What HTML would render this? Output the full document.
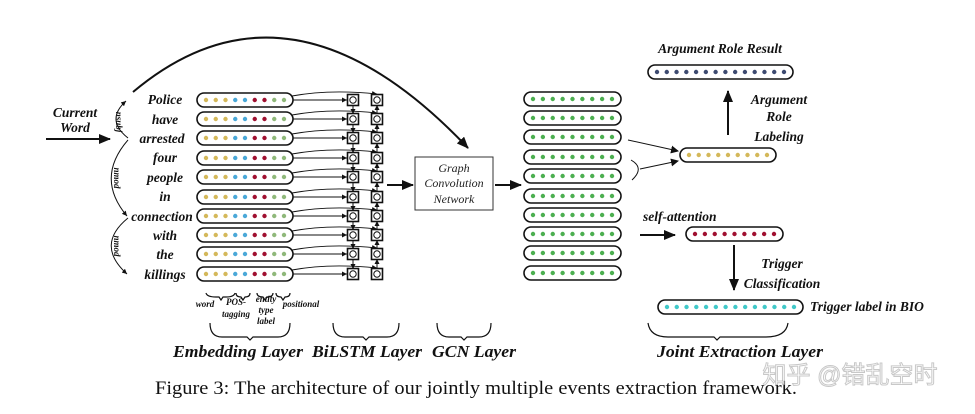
<!DOCTYPE html>
<html><head><meta charset="utf-8"><style>
body{margin:0;background:#fff}
svg{display:block}
.w{font-family:"Liberation Serif",serif;font-style:italic;font-weight:bold;font-size:13.5px;fill:#111}
.s{font-family:"Liberation Serif",serif;font-style:italic;font-weight:bold;font-size:9px;fill:#111}
.L{font-family:"Liberation Serif",serif;font-style:italic;font-weight:bold;font-size:17px;fill:#111}
</style></head><body>
<svg id="g" width="975" height="414" viewBox="0 0 975 414" xmlns="http://www.w3.org/2000/svg">
<defs>
<marker id="a" markerWidth="8" markerHeight="8" refX="7" refY="4" orient="auto" markerUnits="userSpaceOnUse"><path d="M0,0 L8,4 L0,8 z" fill="#111"/></marker>
<marker id="b" markerWidth="12" markerHeight="10" refX="11" refY="5" orient="auto" markerUnits="userSpaceOnUse"><path d="M0,0 L12,5 L0,10 z" fill="#111"/></marker>
<marker id="c" markerWidth="5" markerHeight="5" refX="5" refY="2.5" orient="auto" markerUnits="userSpaceOnUse"><path d="M0,0 L5,2.5 L0,5 z" fill="#111"/></marker>
</defs>
<path d="M133,92 Q290,-40 468,148" fill="none" stroke="#111" stroke-width="2" marker-end="url(#b)"/>
<text class="w" x="75" y="117" text-anchor="middle">Current</text>
<text class="w" x="75" y="132" text-anchor="middle">Word</text>
<line x1="46" y1="139" x2="110" y2="139" stroke="#111" stroke-width="2" marker-end="url(#b)"/>
<path d="M128,138 Q105,120 126,101" fill="none" stroke="#111" stroke-width="1" marker-end="url(#c)"/>
<path d="M128,140 Q95,178 127,216" fill="none" stroke="#111" stroke-width="1" marker-end="url(#c)"/>
<path d="M128,218 Q95,245 127,274" fill="none" stroke="#111" stroke-width="1" marker-end="url(#c)"/>
<text class="s" transform="translate(116,122) rotate(90)" text-anchor="middle">nsubj</text>
<text class="s" transform="translate(114,178) rotate(90)" text-anchor="middle">nmod</text>
<text class="s" transform="translate(114,246) rotate(90)" text-anchor="middle">nmod</text>
<g class="w" text-anchor="middle">
<text x="165" y="104">Police</text>
<text x="165" y="124">have</text>
<text x="162" y="143">arrested</text>
<text x="165" y="162">four</text>
<text x="165" y="182">people</text>
<text x="165" y="201">in</text>
<text x="162" y="221">connection</text>
<text x="165" y="240">with</text>
<text x="165" y="259">the</text>
<text x="165" y="279">killings</text>
</g>
<g id="dyn"></g>
<line x1="387" y1="185" x2="413" y2="185" stroke="#111" stroke-width="2" marker-end="url(#b)"/>
<rect x="415" y="157" width="78" height="53" fill="#fff" stroke="#333" stroke-width="1"/>
<g font-family="Liberation Serif,serif" font-style="italic" font-size="12" fill="#222" text-anchor="middle">
<text x="454" y="172">Graph</text><text x="454" y="187">Convolution</text><text x="454" y="203">Network</text></g>
<line x1="495" y1="185" x2="521" y2="185" stroke="#111" stroke-width="2" marker-end="url(#b)"/>
<text class="w" x="720" y="53" text-anchor="middle" font-size="12.5">Argument Role Result</text>
<line x1="728" y1="135" x2="728" y2="91" stroke="#111" stroke-width="2" marker-end="url(#b)"/>
<g class="w" text-anchor="middle" font-size="12.5"><text x="779" y="104">Argument</text><text x="779" y="121">Role</text><text x="779" y="141">Labeling</text></g>
<line x1="628" y1="140" x2="678" y2="151" stroke="#111" stroke-width="1" marker-end="url(#a)"/>
<path d="M631,160 Q645,168 632,180" fill="none" stroke="#111" stroke-width="1"/>
<line x1="640" y1="169" x2="678" y2="161" stroke="#111" stroke-width="1" marker-end="url(#a)"/>
<text class="w" x="643" y="221" font-size="12.5">self-attention</text>
<line x1="640" y1="235" x2="675" y2="235" stroke="#111" stroke-width="2" marker-end="url(#b)"/>
<line x1="734" y1="245" x2="734" y2="290" stroke="#111" stroke-width="2" marker-end="url(#b)"/>
<g class="w" text-anchor="middle" font-size="12.5"><text x="782" y="268">Trigger</text><text x="782" y="288">Classification</text></g>
<text class="w" x="810" y="311" font-size="12.5">Trigger label in BIO</text>
<g class="s" font-size="8.5" text-anchor="middle">
<text x="205" y="307">word</text><text x="236" y="305">POS-</text><text x="236" y="317">tagging</text>
<text x="266" y="302">entity</text><text x="266" y="313">type</text><text x="266" y="324">label</text>
<text x="301" y="307">positional</text></g>
<g fill="none" stroke="#111" stroke-width="1.2">
<path d="M206,293 q1,4 10,4 h3 l2,3 l2,-3 h3 q8,0 9,-4"/>
<path d="M236,293 q0,4 5,4 l2,3 l2,-3 q5,0 5,-4"/>
<path d="M257,293 q0,4 6,4 l2,3 l2,-3 q6,0 6,-4"/>
<path d="M276,293 q0,4 5,4 l2,3 l2,-3 q5,0 5,-4"/>
<path d="M210,323 q0,14 12,14 h25 l3,3 l3,-3 h25 q12,0 12,-14"/>
<path d="M333,323 q0,14 12,14 h18 l3,3 l3,-3 h18 q12,0 12,-14"/>
<path d="M437,323 q0,14 12,14 h12 l3,3 l3,-3 h12 q12,0 12,-14"/>
<path d="M648,323 q2,14 20,14 h46 l3,3 l3,-3 h46 q20,0 22,-14"/>
</g>
<g class="L">
<text x="173" y="357" textLength="130" lengthAdjust="spacingAndGlyphs">Embedding Layer</text>
<text x="312" y="357" textLength="110" lengthAdjust="spacingAndGlyphs">BiLSTM Layer</text>
<text x="432" y="357" textLength="84" lengthAdjust="spacingAndGlyphs">GCN Layer</text>
<text x="657" y="357" textLength="166" lengthAdjust="spacingAndGlyphs">Joint Extraction Layer</text></g>
<text x="155" y="394" textLength="642" lengthAdjust="spacingAndGlyphs" font-family="Liberation Serif,serif" font-size="19" fill="#111">Figure 3: The architecture of our jointly multiple events extraction framework.</text>
<text x="850" y="383" text-anchor="middle" font-family="Liberation Sans,Noto Sans CJK SC,sans-serif" font-size="24" fill="#fff" stroke="#bbb" stroke-width="1" opacity="0.8">知乎 @错乱空时</text>
</svg>
<script>
var ns="http://www.w3.org/2000/svg",g=document.getElementById("dyn");
function el(t,a){var e=document.createElementNS(ns,t);for(var k in a)e.setAttribute(k,a[k]);g.appendChild(e);return e;}
function pill(x1,x2,y,cols){el("rect",{x:x1,y:y-7,width:x2-x1,height:14,rx:7,fill:"#fff",stroke:"#111","stroke-width":1.6});
var n=cols.length,st=(x2-x1-18)/(n-1);for(var i=0;i<n;i++)el("circle",{cx:x1+9+i*st,cy:y,r:2.2,fill:cols[i]});}
var Y=[100,119,138,158,177,197,216,235,254,274];
var ec=["#d4b85a","#d4b85a","#d4b85a","#4aa8d8","#4aa8d8","#a01030","#a01030","#8fb87a","#8fb87a"];
var gr=[];for(var i=0;i<9;i++)gr.push("#4caf50");
Y.forEach(function(y,i){
pill(197,293,y,ec);
el("line",{x1:293,y1:y,x2:347,y2:y,stroke:"#111","stroke-width":1,"marker-end":"url(#c)"});
el("path",{d:"M292,"+(y-4)+" Q330,"+(y-11)+" 377,"+(y-6),fill:"none",stroke:"#111","stroke-width":0.9,"marker-end":"url(#c)"});
[353,377].forEach(function(x){el("rect",{x:x-5.5,y:y-5.5,width:11,height:11,fill:"#fff",stroke:"#111","stroke-width":1.6});el("circle",{cx:x,cy:y,r:3.2,fill:"none",stroke:"#111","stroke-width":1});});
if(i<9){el("line",{x1:353,y1:y+5,x2:353,y2:Y[i+1]-5,stroke:"#111","stroke-width":1,"marker-end":"url(#c)"});
el("line",{x1:377,y1:Y[i+1]-5,x2:377,y2:y+5,stroke:"#111","stroke-width":1,"marker-end":"url(#c)"});}
pill(524,621,y-1,gr);
});
var ab=[];for(i=0;i<14;i++)ab.push("#3d4a70");pill(648,793,72,ab);
var yl=[];for(i=0;i<9;i++)yl.push("#d4b85a");pill(680,776,155,yl);
var rd=[];for(i=0;i<9;i++)rd.push("#a01030");pill(686,783,234,rd);
var cy=[];for(i=0;i<14;i++)cy.push("#40c8c8");pill(658,803,307,cy);
</script>
</body></html>
